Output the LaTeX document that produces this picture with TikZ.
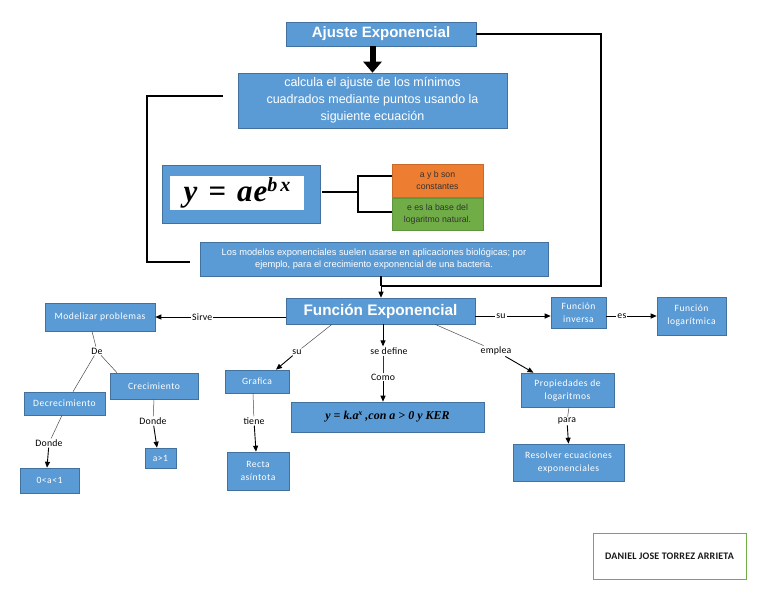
\documentclass[tikz,border=0pt]{standalone}
\usepackage[no-math]{fontspec}
\setmainfont{Liberation Sans}
\newfontfamily\calf[LetterSpace=5]{Carlito}
\newfontfamily\calb[LetterSpace=2]{Carlito}
\newfontfamily\mathtxt{Liberation Serif}
\usetikzlibrary{arrows.meta}
\definecolor{bfill}{HTML}{5B9BD5}
\definecolor{bdraw}{HTML}{41719C}
\definecolor{ofill}{HTML}{ED7D31}
\definecolor{gfill}{HTML}{70AD47}
\definecolor{dtext}{HTML}{333333}
\begin{document}
\begin{tikzpicture}[x=1pt,y=-1pt,
 bbox/.style={draw=bdraw, line width=0.6pt, fill=bfill, text=white, inner sep=0pt, align=center},
 lowbox/.style={bbox, font=\calf\fontsize{9.6}{13}\selectfont},
 lbl/.style={fill=white, inner sep=1pt, font=\calb\fontsize{9.8}{11}\selectfont, text=black},
 thinline/.style={draw=black!70, line width=0.5pt},
 arr/.style={draw=black, line width=0.9pt, -{Triangle[length=6pt,width=5pt]}},
 heavy/.style={line width=2.6pt},
 sidebox/.style={minimum width=91, inner sep=0pt, align=center, text=dtext, line width=0.4pt, font=\fontsize{8.7}{12.5}\selectfont},
]
\useasboundingbox (0,0) rectangle (768,594);
\fill[white] (0,0) rectangle (768,594);

% top part
\node[bbox, minimum width=190, minimum height=24, font=\bfseries\fontsize{15}{16}\selectfont] (aj) at (381,34) {Ajuste Exponencial};
\node[bbox, minimum width=269, minimum height=55, font=\fontsize{12.5}{17}\selectfont] (calc) at (372.5,100.5) {calcula el ajuste de los mínimos\\cuadrados mediante puntos usando la\\siguiente ecuación};
\node[bbox, minimum width=158, minimum height=58] (eq) at (241,194) {};
\node[fill=white, minimum width=134, minimum height=34, inner sep=0pt, font=\mathtxt\bfseries\itshape\fontsize{31}{32}\selectfont] (eqw) at (237,193) {y\kern 11pt=\kern 11pt a\kern1pt e\raisebox{10pt}{\fontsize{20}{20}\selectfont b\kern3pt x}};
\node[sidebox, fill=ofill, draw=ofill!85!black, minimum height=33] (or) at (437.5,180.5) {a y b son\\constantes};
\node[sidebox, fill=gfill, draw=gfill!85!black, minimum height=32] (gr) at (437.5,214) {e es la base del\\logaritmo natural.};
\node[bbox, minimum width=348, minimum height=34, font=\fontsize{9.3}{12.5}\selectfont] (los) at (374,259) {Los modelos exponenciales suelen usarse en aplicaciones biológicas; por\\ejemplo, para el crecimiento exponencial de una bacteria.};
\node[bbox, minimum width=189, minimum height=26, font=\bfseries\fontsize{15.3}{16}\selectfont] (fe) at (380.5,311) {Función Exponencial};

% lower boxes
\node[lowbox, minimum width=110, minimum height=28] (mod) at (100,317) {Modelizar problemas};
\node[lowbox, minimum width=81, minimum height=23] (dec) at (64.5,403.5) {Decrecimiento};
\node[lowbox, minimum width=88, minimum height=26] (cre) at (154,386) {Crecimiento};
\node[lowbox, minimum width=59, minimum height=25] (zero) at (49.5,480.5) {0<a<1};
\node[lowbox, minimum width=31, minimum height=20] (agt) at (160.5,458) {a>1};
\node[lowbox, minimum width=64, minimum height=23] (gra) at (257,381.5) {Grafica};
\node[lowbox, minimum width=62, minimum height=38] (rec) at (258,471) {Recta\\asíntota};
\node[bbox, minimum width=193, minimum height=30, text=black, font=\mathtxt\bfseries\itshape\fontsize{12}{13}\selectfont] (kx) at (387.5,417) {y = k.a\raisebox{4.5pt}{\fontsize{8}{8}\selectfont x} ,con a > 0 y KER};
\node[lowbox, minimum width=93, minimum height=34] (prop) at (567.5,390) {Propiedades de\\logaritmos};
\node[lowbox, minimum width=111, minimum height=37] (res) at (568.5,462.5) {Resolver ecuaciones\\exponenciales};
\node[lowbox, minimum width=55, minimum height=31] (inv) at (578.5,312.5) {Función\\inversa};
\node[lowbox, minimum width=69, minimum height=38] (log) at (691.5,316) {Función\\logarítmica};
\node[draw=gfill, line width=0.8pt, fill=white, minimum width=153, minimum height=46, text=black!90, font=\bfseries\calb\fontsize{10}{11}\selectfont] (dan) at (669.5,556) {DANIEL JOSE TORREZ ARRIETA};

% labels
\node[lbl] (de) at (97,351) {De};
\node[lbl] (d1) at (49,443) {Donde};
\node[lbl] (d2) at (153,421) {Donde};
\node[lbl] (su2) at (297,352) {su};
\node[lbl] (sed) at (389,351) {se define};
\node[lbl] (como) at (383,377) {Como};
\node[lbl] (tiene) at (254,421) {tiene};
\node[lbl] (emp) at (496,351) {emplea};
\node[lbl] (para) at (567,421) {para};

% coordinates
\coordinate (rt) at (601,34);
\coordinate (rb) at (601,286);
\coordinate (jn) at (381,286);
\coordinate (l1) at (223,96);
\coordinate (l2) at (147,96);
\coordinate (l3) at (147,262);
\coordinate (l4) at (190,262);
\coordinate (b1) at (358,192);
\coordinate (b2) at (358,176);
\coordinate (b3) at (358,212);

% top connectors
\draw[line width=6pt, -{Triangle[length=11pt,width=18pt]}] (aj.south -| calc.north) -- (calc.north);
\draw[line width=1.8pt] (aj.east) -- (rt) -- (rb) -- (jn);
\draw[line width=1.2pt] (los.south -| jn) -- (jn);
\draw[arr] (jn) -- (fe.north -| jn);
\draw[heavy] (l1) -- (l2) -- (l3) -- (l4);
\draw[heavy] ([xshift=2pt]eq.east |- b1) -- (b1);
\draw[heavy] (or.west |- b2) -- (b2) -- (b3) -- (gr.west |- b3);

% lower connectors
\draw[arr] (fe.west |- mod.east) -- (mod.east) node[lbl, pos=0.64] {Sirve};
\draw[arr] (fe.east |- log.west) -- (inv.west |- log.west) node[lbl, pos=0.34] {su};
\draw[arr] (inv.east |- log.west) -- (log.west) node[lbl, pos=0.31] {es};
\draw[thinline] ([xshift=-8pt]mod.south) -- (de);
\draw[thinline] (de) -- ([xshift=8.5pt]dec.north);
\draw[thinline] (de) -- ([xshift=-37pt]cre.north);
\draw[thinline] ([xshift=-2.5pt]dec.south) -- (d1);
\draw[arr] (d1) -- ([xshift=-2.5pt]zero.north);
\draw[thinline] (cre.south) -- (d2);
\draw[arr] (d2) -- ([xshift=-3.5pt]agt.north);
\draw[thinline] ([xshift=-48.5pt]fe.south) -- (su2);
\draw[arr] (su2) -- ([xshift=19pt]gra.north);
\draw[arr] (fe.south -| como) -- (sed.north -| como);
\draw[draw=black!80, line width=0.9pt] (sed.south -| como) -- (como.north);
\draw[arr] (como.south) -- (kx.north -| como);
\draw[thinline] ([xshift=-4pt]gra.south) -- (tiene);
\draw[arr] (tiene) -- ([xshift=-2pt]rec.north);
\draw[thinline] ([xshift=54.5pt]fe.south) -- (emp);
\draw[arr] (emp) -- ([xshift=-34pt]prop.north);
\draw[thinline] ([xshift=1.5pt]prop.south) -- (para);
\draw[arr] (para) -- (res.north);
\end{tikzpicture}
\end{document}
